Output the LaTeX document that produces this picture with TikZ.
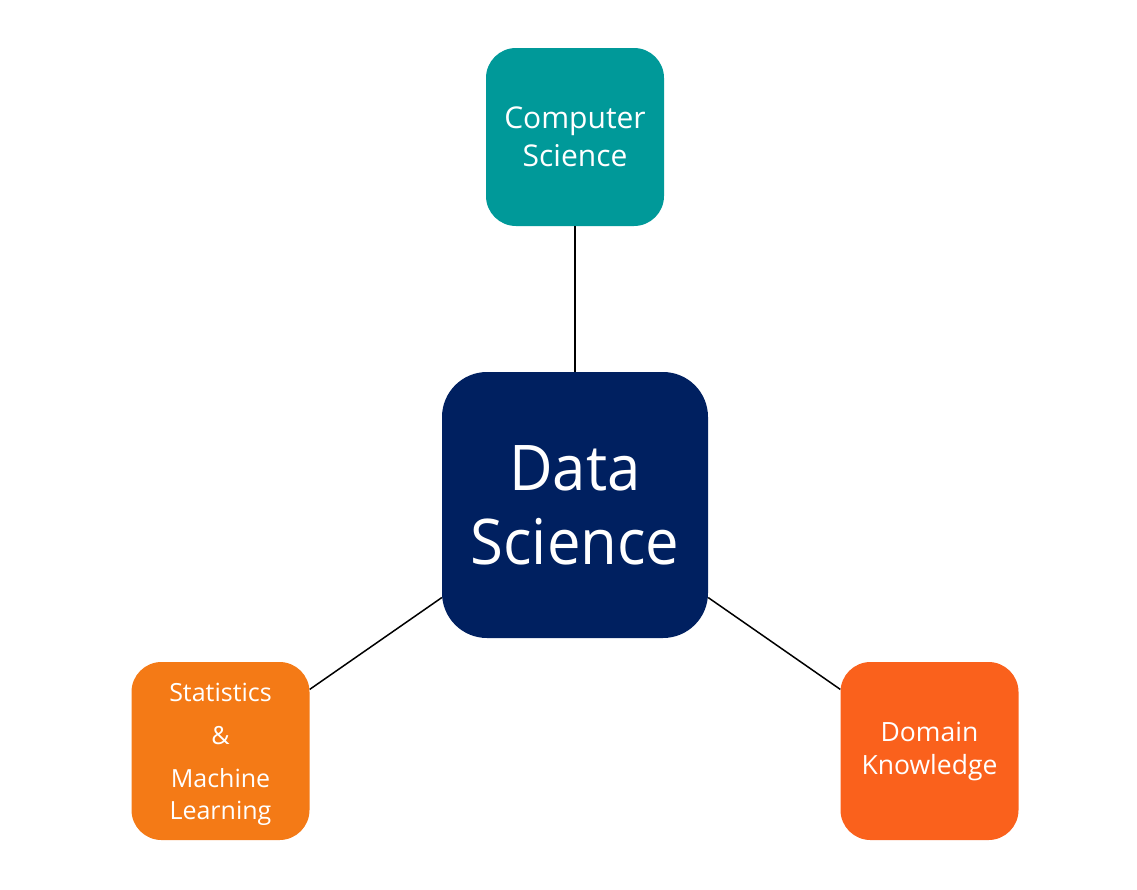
\documentclass[tikz,border=0pt]{standalone}
\usepackage{fontspec}
\setmainfont{Open Sans}
\newfontfamily\dsfont{Open Sans}[FakeStretch=0.95]
\definecolor{csteal}{HTML}{009999}
\definecolor{dsnavy}{HTML}{002060}
\definecolor{stor}{HTML}{F47A16}
\definecolor{dkor}{HTML}{FA611C}
\tikzset{
  boxa/.style={rectangle, rounded corners=#1, text=white, align=center, inner sep=0pt},
  small/.style={boxa=30pt, minimum width=178pt, minimum height=178pt},
  link/.style={draw=black, line width=1.5pt}
}
\begin{document}
\begin{tikzpicture}[x=1pt,y=-1pt]
\useasboundingbox (0,0) rectangle (1137,889);
\node[small, fill=csteal, font=\fontsize{30}{38}\selectfont] (cs) at (575,137) {Computer\\Science};
\node[boxa=45pt, minimum width=266pt, minimum height=266pt, fill=dsnavy, font=\dsfont\fontsize{63}{74}\selectfont] (ds) at (575,505) {Data\\Science};
\node[small, fill=stor, font=\fontsize{25}{43}\selectfont, text depth=-4pt] (st) at (220.5,751) {Statistics\\\&\\Machine\\[-11pt]Learning};
\node[small, fill=dkor, font=\fontsize{26.5}{33}\selectfont] (dk) at (929.5,751) {Domain\\Knowledge};
\draw[link] (cs) -- (ds);
\draw[link] (ds) -- (st);
\draw[link] (ds) -- (dk);
\end{tikzpicture}
\end{document}
